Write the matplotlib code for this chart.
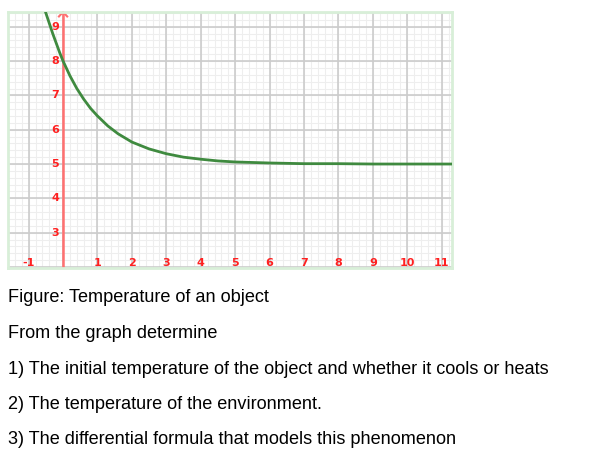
import numpy as np
import matplotlib.pyplot as plt

# temperature curve
t_vals = [-0.5, -0.3, -0.1, 0.0, 0.2, 0.4, 0.6, 0.8, 1.0, 1.3, 1.6, 2.0, 2.5, 3.0,
          3.5, 4.0, 4.5, 5.0, 6.0, 7.0, 8.0, 9.0, 10.0, 11.3]
temp_vals = [9.40, 8.80, 8.25, 8.00, 7.57, 7.20, 6.89, 6.62, 6.40, 6.11, 5.88, 5.64,
             5.44, 5.30, 5.20, 5.14, 5.09, 5.06, 5.03, 5.01, 5.01, 5.00, 5.00, 5.00]
x_ticks = [-1, 1, 2, 3, 4, 5, 6, 7, 8, 9, 10, 11]
y_ticks = [3, 4, 5, 6, 7, 8, 9]
lines = ["Figure: Temperature of an object",
         "From the graph determine",
         "1) The initial temperature of the object and whether it cools or heats",
         "2) The temperature of the environment.",
         "3) The differential formula that models this phenomenon"]

fig = plt.figure(figsize=(5.89, 4.58), dpi=100)
ax = fig.add_axes([8 / 589, 1 - 268 / 458, 444 / 589, 256 / 458])
ax.set_xlim(-1.6, 11.3)
ax.set_ylim(1.97, 9.43)

for v in np.arange(-1.6, 11.4, 0.2):
    ax.axvline(v, color='#eeeeee', lw=0.8, zorder=0)
for v in np.arange(2.0, 9.5, 0.2):
    ax.axhline(v, color='#eeeeee', lw=0.8, zorder=0)
for v in range(-1, 12):
    ax.axvline(v, color='#cccccc', lw=1.2, zorder=1)
for v in range(2, 10):
    ax.axhline(v, color='#cccccc', lw=1.2, zorder=1)

ax.axvline(0, color='#ff7070', lw=1.8, zorder=2)
ax.plot([-0.12, 0, 0.12], [9.3, 9.43, 9.3], color='#ff7070', lw=1.5, zorder=2, clip_on=False)
ax.plot(t_vals, temp_vals, color='#3f8a3f', lw=2, zorder=3)

for v in x_ticks:
    ax.text(v, 2.13, str(v), color='#ff2020', fontsize=8, ha='center', va='center',
            fontweight='bold', zorder=4)
for v in y_ticks:
    ax.text(-0.22, v, str(v), color='#ff2020', fontsize=8, ha='center', va='center',
            fontweight='bold', zorder=4)

ax.set_xticks([])
ax.set_yticks([])
for s in ax.spines.values():
    s.set_color('#d8efd8')
    s.set_linewidth(2)

for i, line in enumerate(lines):
    fig.text(8 / 589, 1 - (298 + i * 35.5) / 458, line, fontsize=13.1,
             family='Liberation Sans', va='center', ha='left')

fig.savefig('out.png', dpi=100)
